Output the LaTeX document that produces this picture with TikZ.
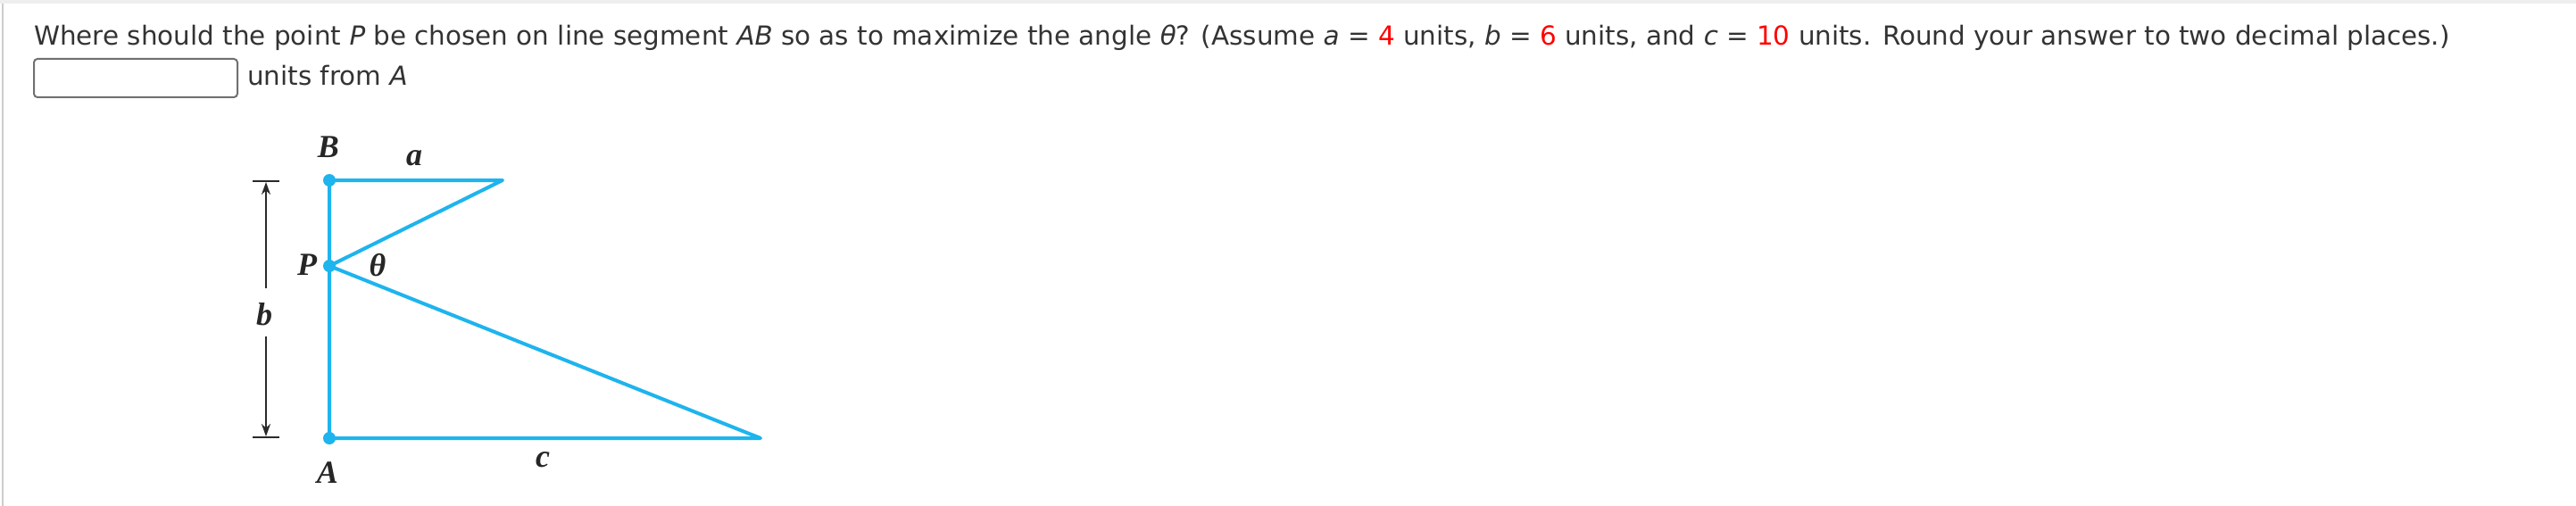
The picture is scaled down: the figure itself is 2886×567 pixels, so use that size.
\documentclass[tikz,border=0pt]{standalone}
\usepackage{fontspec}
\setmainfont{DejaVu Sans}
\newfontfamily\figfont{Liberation Serif}
\usetikzlibrary{arrows.meta}
\definecolor{txt}{HTML}{333333}
\definecolor{num}{HTML}{FF0000}
\definecolor{fig}{RGB}{30,180,238}
\definecolor{boxgray}{HTML}{707070}
\definecolor{topband}{HTML}{EEEEEE}
\definecolor{leftline}{HTML}{CCCCCC}
\definecolor{dim}{HTML}{2A2A2A}
\tikzset{
  qtext/.style={anchor=base west, inner sep=0pt, text=txt, font=\fontsize{29.4}{36}\selectfont},
  figlabel/.style={inner sep=0pt, text=black!85, font=\figfont\bfseries\itshape\fontsize{36}{42}\selectfont},
  figline/.style={draw=fig, line width=4pt, line join=round, line cap=round},
  figdot/.style={circle, fill=fig, inner sep=0pt, minimum size=14pt},
  dimline/.style={draw=dim, line width=2.2pt},
  answerbox/.style={draw=boxgray, line width=2pt, rounded corners=4pt, anchor=north west, inner sep=0pt, minimum width=228pt, minimum height=43pt}
}
\begin{document}
\begin{tikzpicture}[x=1pt,y=-1pt]
\useasboundingbox (0,0) rectangle (2886,567);
\fill[white] (0,0) rectangle (2886,567);
\fill[topband] (0,0) rectangle (2886,4);
\fill[leftline] (2,4) rectangle (4,567);

\node[qtext] (q) at (38,51) {Where should the point \textit{P} be chosen on line segment \textit{AB} so as to maximize the angle \textit{θ}? (Assume \textit{a} = \textcolor{num}{4} units, \textit{b} = \textcolor{num}{6} units, and \textit{c} = \textcolor{num}{10} units. Round your answer to two decimal places.)};
\node[answerbox] (box) at (37,65) {};
\node[qtext] (units) at (277,96) {units from \textit{A}};

% diagram
\coordinate (B) at (369,202);
\coordinate (P) at (369,298);
\coordinate (A) at (369,491);
\coordinate (Ea) at (563,202);
\coordinate (Ec) at (852,491);
\draw[figline] (A) -- (B) -- (Ea) -- (P) -- (Ec) -- (A);
\node[figdot] (dB) at (B) {};
\node[figdot] (dP) at (P) {};
\node[figdot] (dA) at (A) {};

% dimension b
\coordinate (t1l) at (283,203);
\coordinate (t1r) at (313,203);
\coordinate (t2l) at (283,490);
\coordinate (t2r) at (313,490);
\coordinate (top) at (298,204);
\coordinate (bot) at (298,489);
\coordinate (gap1) at (298,323);
\coordinate (gap2) at (298,377);
\draw[dimline] (t1l) -- (t1r);
\draw[dimline] (t2l) -- (t2r);
\draw[dimline, -{Stealth[length=14pt,width=10pt]}] (gap1) -- (top);
\draw[dimline, -{Stealth[length=14pt,width=10pt]}] (gap2) -- (bot);

\node[figlabel] (lB) at (368,165) {B};
\node[figlabel] (la) at (464,177) {a};
\node[figlabel] (lP) at (344,297) {P};
\node[figlabel] (lth) at (423,297) {θ};
\node[figlabel] (lb) at (296,352) {b};
\node[figlabel] (lc) at (608,515) {c};
\node[figlabel] (lA) at (367,530) {A};
\end{tikzpicture}
\end{document}
